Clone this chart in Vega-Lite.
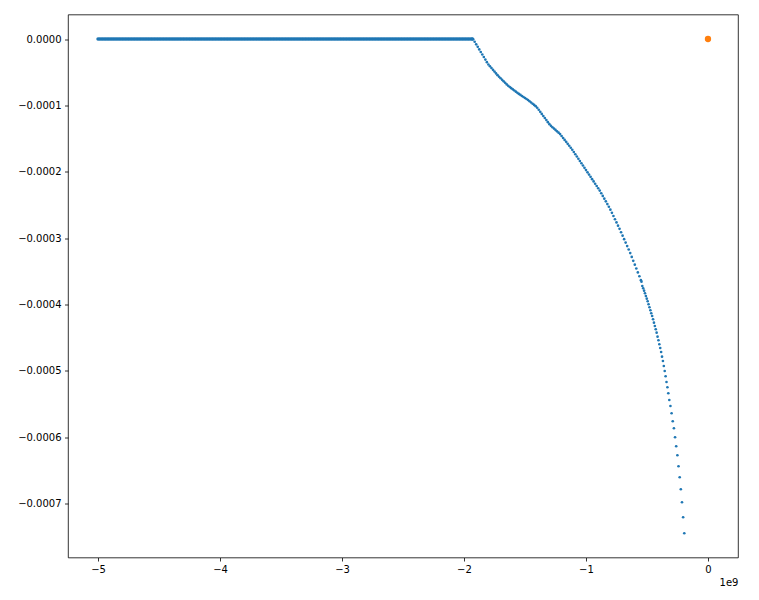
{
  "$schema": "https://vega.github.io/schema/vega-lite/v6.json",
  "autosize": "none",
  "padding": {"left": 68, "top": 14.5, "right": 21, "bottom": 42},
  "width": 670,
  "height": 543,
  "background": "white",
  "datasets": {
    "flat": [
      {"x":-5e9,"y":0},{"x":-4.9875e9,"y":0},{"x":-4.975e9,"y":0},{"x":-4.9625e9,"y":0},{"x":-4.95e9,"y":0},{"x":-4.9375e9,"y":0},{"x":-4.925e9,"y":0},{"x":-4.9125e9,"y":0},
      {"x":-4.9e9,"y":0},{"x":-4.8875e9,"y":0},{"x":-4.875e9,"y":0},{"x":-4.8625e9,"y":0},{"x":-4.85e9,"y":0},{"x":-4.8375e9,"y":0},{"x":-4.825e9,"y":0},{"x":-4.8125e9,"y":0},
      {"x":-4.8e9,"y":0},{"x":-4.7875e9,"y":0},{"x":-4.775e9,"y":0},{"x":-4.7625e9,"y":0},{"x":-4.75e9,"y":0},{"x":-4.7375e9,"y":0},{"x":-4.725e9,"y":0},{"x":-4.7125e9,"y":0},
      {"x":-4.7e9,"y":0},{"x":-4.6875e9,"y":0},{"x":-4.675e9,"y":0},{"x":-4.6625e9,"y":0},{"x":-4.65e9,"y":0},{"x":-4.6375e9,"y":0},{"x":-4.625e9,"y":0},{"x":-4.6125e9,"y":0},
      {"x":-4.6e9,"y":0},{"x":-4.5875e9,"y":0},{"x":-4.575e9,"y":0},{"x":-4.5625e9,"y":0},{"x":-4.55e9,"y":0},{"x":-4.5375e9,"y":0},{"x":-4.525e9,"y":0},{"x":-4.5125e9,"y":0},
      {"x":-4.5e9,"y":0},{"x":-4.4875e9,"y":0},{"x":-4.475e9,"y":0},{"x":-4.4625e9,"y":0},{"x":-4.45e9,"y":0},{"x":-4.4375e9,"y":0},{"x":-4.425e9,"y":0},{"x":-4.4125e9,"y":0},
      {"x":-4.4e9,"y":0},{"x":-4.3875e9,"y":0},{"x":-4.375e9,"y":0},{"x":-4.3625e9,"y":0},{"x":-4.35e9,"y":0},{"x":-4.3375e9,"y":0},{"x":-4.325e9,"y":0},{"x":-4.3125e9,"y":0},
      {"x":-4.3e9,"y":0},{"x":-4.2875e9,"y":0},{"x":-4.275e9,"y":0},{"x":-4.2625e9,"y":0},{"x":-4.25e9,"y":0},{"x":-4.2375e9,"y":0},{"x":-4.225e9,"y":0},{"x":-4.2125e9,"y":0},
      {"x":-4.2e9,"y":0},{"x":-4.1875e9,"y":0},{"x":-4.175e9,"y":0},{"x":-4.1625e9,"y":0},{"x":-4.15e9,"y":0},{"x":-4.1375e9,"y":0},{"x":-4.125e9,"y":0},{"x":-4.1125e9,"y":0},
      {"x":-4.1e9,"y":0},{"x":-4.0875e9,"y":0},{"x":-4.075e9,"y":0},{"x":-4.0625e9,"y":0},{"x":-4.05e9,"y":0},{"x":-4.0375e9,"y":0},{"x":-4.025e9,"y":0},{"x":-4.0125e9,"y":0},
      {"x":-4e9,"y":0},{"x":-3.9875e9,"y":0},{"x":-3.975e9,"y":0},{"x":-3.9625e9,"y":0},{"x":-3.95e9,"y":0},{"x":-3.9375e9,"y":0},{"x":-3.925e9,"y":0},{"x":-3.9125e9,"y":0},
      {"x":-3.9e9,"y":0},{"x":-3.8875e9,"y":0},{"x":-3.875e9,"y":0},{"x":-3.8625e9,"y":0},{"x":-3.85e9,"y":0},{"x":-3.8375e9,"y":0},{"x":-3.825e9,"y":0},{"x":-3.8125e9,"y":0},
      {"x":-3.8e9,"y":0},{"x":-3.7875e9,"y":0},{"x":-3.775e9,"y":0},{"x":-3.7625e9,"y":0},{"x":-3.75e9,"y":0},{"x":-3.7375e9,"y":0},{"x":-3.725e9,"y":0},{"x":-3.7125e9,"y":0},
      {"x":-3.7e9,"y":0},{"x":-3.6875e9,"y":0},{"x":-3.675e9,"y":0},{"x":-3.6625e9,"y":0},{"x":-3.65e9,"y":0},{"x":-3.6375e9,"y":0},{"x":-3.625e9,"y":0},{"x":-3.6125e9,"y":0},
      {"x":-3.6e9,"y":0},{"x":-3.5875e9,"y":0},{"x":-3.575e9,"y":0},{"x":-3.5625e9,"y":0},{"x":-3.55e9,"y":0},{"x":-3.5375e9,"y":0},{"x":-3.525e9,"y":0},{"x":-3.5125e9,"y":0},
      {"x":-3.5e9,"y":0},{"x":-3.4875e9,"y":0},{"x":-3.475e9,"y":0},{"x":-3.4625e9,"y":0},{"x":-3.45e9,"y":0},{"x":-3.4375e9,"y":0},{"x":-3.425e9,"y":0},{"x":-3.4125e9,"y":0},
      {"x":-3.4e9,"y":0},{"x":-3.3875e9,"y":0},{"x":-3.375e9,"y":0},{"x":-3.3625e9,"y":0},{"x":-3.35e9,"y":0},{"x":-3.3375e9,"y":0},{"x":-3.325e9,"y":0},{"x":-3.3125e9,"y":0},
      {"x":-3.3e9,"y":0},{"x":-3.2875e9,"y":0},{"x":-3.275e9,"y":0},{"x":-3.2625e9,"y":0},{"x":-3.25e9,"y":0},{"x":-3.2375e9,"y":0},{"x":-3.225e9,"y":0},{"x":-3.2125e9,"y":0},
      {"x":-3.2e9,"y":0},{"x":-3.1875e9,"y":0},{"x":-3.175e9,"y":0},{"x":-3.1625e9,"y":0},{"x":-3.15e9,"y":0},{"x":-3.1375e9,"y":0},{"x":-3.125e9,"y":0},{"x":-3.1125e9,"y":0},
      {"x":-3.1e9,"y":0},{"x":-3.0875e9,"y":0},{"x":-3.075e9,"y":0},{"x":-3.0625e9,"y":0},{"x":-3.05e9,"y":0},{"x":-3.0375e9,"y":0},{"x":-3.025e9,"y":0},{"x":-3.0125e9,"y":0},
      {"x":-3e9,"y":0},{"x":-2.9875e9,"y":0},{"x":-2.975e9,"y":0},{"x":-2.9625e9,"y":0},{"x":-2.95e9,"y":0},{"x":-2.9375e9,"y":0},{"x":-2.925e9,"y":0},{"x":-2.9125e9,"y":0},
      {"x":-2.9e9,"y":0},{"x":-2.8875e9,"y":0},{"x":-2.875e9,"y":0},{"x":-2.8625e9,"y":0},{"x":-2.85e9,"y":0},{"x":-2.8375e9,"y":0},{"x":-2.825e9,"y":0},{"x":-2.8125e9,"y":0},
      {"x":-2.8e9,"y":0},{"x":-2.7875e9,"y":0},{"x":-2.775e9,"y":0},{"x":-2.7625e9,"y":0},{"x":-2.75e9,"y":0},{"x":-2.7375e9,"y":0},{"x":-2.725e9,"y":0},{"x":-2.7125e9,"y":0},
      {"x":-2.7e9,"y":0},{"x":-2.6875e9,"y":0},{"x":-2.675e9,"y":0},{"x":-2.6625e9,"y":0},{"x":-2.65e9,"y":0},{"x":-2.6375e9,"y":0},{"x":-2.625e9,"y":0},{"x":-2.6125e9,"y":0},
      {"x":-2.6e9,"y":0},{"x":-2.5875e9,"y":0},{"x":-2.575e9,"y":0},{"x":-2.5625e9,"y":0},{"x":-2.55e9,"y":0},{"x":-2.5375e9,"y":0},{"x":-2.525e9,"y":0},{"x":-2.5125e9,"y":0},
      {"x":-2.5e9,"y":0},{"x":-2.4875e9,"y":0},{"x":-2.475e9,"y":0},{"x":-2.4625e9,"y":0},{"x":-2.45e9,"y":0},{"x":-2.4375e9,"y":0},{"x":-2.425e9,"y":0},{"x":-2.4125e9,"y":0},
      {"x":-2.4e9,"y":0},{"x":-2.3875e9,"y":0},{"x":-2.375e9,"y":0},{"x":-2.3625e9,"y":0},{"x":-2.35e9,"y":0},{"x":-2.3375e9,"y":0},{"x":-2.325e9,"y":0},{"x":-2.3125e9,"y":0},
      {"x":-2.3e9,"y":0},{"x":-2.2875e9,"y":0},{"x":-2.275e9,"y":0},{"x":-2.2625e9,"y":0},{"x":-2.25e9,"y":0},{"x":-2.2375e9,"y":0},{"x":-2.225e9,"y":0},{"x":-2.2125e9,"y":0},
      {"x":-2.2e9,"y":0},{"x":-2.1875e9,"y":0},{"x":-2.175e9,"y":0},{"x":-2.1625e9,"y":0},{"x":-2.15e9,"y":0},{"x":-2.1375e9,"y":0},{"x":-2.125e9,"y":0},{"x":-2.1125e9,"y":0},
      {"x":-2.1e9,"y":0},{"x":-2.0875e9,"y":0},{"x":-2.075e9,"y":0},{"x":-2.0625e9,"y":0},{"x":-2.05e9,"y":0},{"x":-2.0375e9,"y":0},{"x":-2.025e9,"y":0},{"x":-2.0125e9,"y":0},
      {"x":-2e9,"y":0},{"x":-1.9875e9,"y":0},{"x":-1.975e9,"y":0},{"x":-1.9625e9,"y":0},{"x":-1.95e9,"y":0},{"x":-1.9375e9,"y":0},{"x":-1.93e9,"y":0}
    ],
    "curve": [
      {"x":-1.925e9,"y":-0.0037e-4},{"x":-1.9125e9,"y":-0.042e-4},{"x":-1.9e9,"y":-0.0803e-4},{"x":-1.8875e9,"y":-0.1185e-4},
      {"x":-1.875e9,"y":-0.1568e-4},{"x":-1.8625e9,"y":-0.1951e-4},{"x":-1.85e9,"y":-0.2334e-4},{"x":-1.8375e9,"y":-0.2717e-4},
      {"x":-1.825e9,"y":-0.31e-4},{"x":-1.8125e9,"y":-0.3483e-4},{"x":-1.8e9,"y":-0.3836e-4},{"x":-1.7875e9,"y":-0.4105e-4},
      {"x":-1.775e9,"y":-0.4373e-4},{"x":-1.7625e9,"y":-0.4642e-4},{"x":-1.75e9,"y":-0.491e-4},{"x":-1.7375e9,"y":-0.5179e-4},
      {"x":-1.725e9,"y":-0.5448e-4},{"x":-1.7125e9,"y":-0.5689e-4},{"x":-1.7e9,"y":-0.5918e-4},{"x":-1.6875e9,"y":-0.6148e-4},
      {"x":-1.675e9,"y":-0.6378e-4},{"x":-1.6625e9,"y":-0.6607e-4},{"x":-1.65e9,"y":-0.6837e-4},{"x":-1.6375e9,"y":-0.7058e-4},
      {"x":-1.625e9,"y":-0.7233e-4},{"x":-1.6125e9,"y":-0.7408e-4},{"x":-1.6e9,"y":-0.7582e-4},{"x":-1.5875e9,"y":-0.7757e-4},
      {"x":-1.575e9,"y":-0.7932e-4},{"x":-1.5625e9,"y":-0.8107e-4},{"x":-1.55e9,"y":-0.8269e-4},{"x":-1.5375e9,"y":-0.8423e-4},
      {"x":-1.525e9,"y":-0.8577e-4},{"x":-1.5125e9,"y":-0.873e-4},{"x":-1.5e9,"y":-0.8884e-4},{"x":-1.4875e9,"y":-0.9038e-4},
      {"x":-1.475e9,"y":-0.9193e-4},{"x":-1.4625e9,"y":-0.9377e-4},{"x":-1.45e9,"y":-0.956e-4},{"x":-1.4375e9,"y":-0.9744e-4},
      {"x":-1.425e9,"y":-0.9927e-4},{"x":-1.4125e9,"y":-1.0111e-4},{"x":-1.4e9,"y":-1.0352e-4},{"x":-1.3875e9,"y":-1.0662e-4},
      {"x":-1.375e9,"y":-1.0972e-4},{"x":-1.3625e9,"y":-1.1282e-4},{"x":-1.35e9,"y":-1.1591e-4},{"x":-1.3375e9,"y":-1.1901e-4},
      {"x":-1.325e9,"y":-1.2211e-4},{"x":-1.3125e9,"y":-1.2521e-4},{"x":-1.3e9,"y":-1.283e-4},{"x":-1.2875e9,"y":-1.3078e-4},
      {"x":-1.275e9,"y":-1.3284e-4},{"x":-1.2625e9,"y":-1.3491e-4},{"x":-1.25e9,"y":-1.3697e-4},{"x":-1.2375e9,"y":-1.3904e-4},
      {"x":-1.225e9,"y":-1.411e-4},{"x":-1.2125e9,"y":-1.4321e-4},{"x":-1.2e9,"y":-1.4614e-4},{"x":-1.1875e9,"y":-1.4907e-4},
      {"x":-1.175e9,"y":-1.52e-4},{"x":-1.1625e9,"y":-1.5493e-4},{"x":-1.15e9,"y":-1.5786e-4},{"x":-1.1375e9,"y":-1.6079e-4},
      {"x":-1.125e9,"y":-1.6372e-4},{"x":-1.1125e9,"y":-1.6674e-4},{"x":-1.1e9,"y":-1.7014e-4},{"x":-1.0875e9,"y":-1.7355e-4},
      {"x":-1.075e9,"y":-1.7696e-4},{"x":-1.0625e9,"y":-1.8036e-4},{"x":-1.05e9,"y":-1.8377e-4},{"x":-1.0375e9,"y":-1.8717e-4},
      {"x":-1.025e9,"y":-1.9058e-4},{"x":-1.0125e9,"y":-1.9399e-4},{"x":-1e9,"y":-1.9739e-4},{"x":-0.9875e9,"y":-2.008e-4},
      {"x":-0.975e9,"y":-2.0421e-4},{"x":-0.9625e9,"y":-2.0762e-4},{"x":-0.95e9,"y":-2.1107e-4},{"x":-0.9375e9,"y":-2.1451e-4},
      {"x":-0.925e9,"y":-2.1796e-4},{"x":-0.9125e9,"y":-2.214e-4},{"x":-0.9e9,"y":-2.2484e-4},{"x":-0.8875e9,"y":-2.2829e-4},
      {"x":-0.875e9,"y":-2.3226e-4},{"x":-0.8625e9,"y":-2.3635e-4},{"x":-0.85e9,"y":-2.4044e-4},{"x":-0.8375e9,"y":-2.4453e-4},
      {"x":-0.825e9,"y":-2.4862e-4},{"x":-0.8125e9,"y":-2.5271e-4},{"x":-0.8e9,"y":-2.5699e-4},{"x":-0.7875e9,"y":-2.6181e-4},
      {"x":-0.775e9,"y":-2.6664e-4},{"x":-0.7625e9,"y":-2.7146e-4},{"x":-0.75e9,"y":-2.7628e-4},{"x":-0.7375e9,"y":-2.811e-4},
      {"x":-0.725e9,"y":-2.8592e-4},{"x":-0.7125e9,"y":-2.9102e-4},{"x":-0.7e9,"y":-2.9623e-4},{"x":-0.6875e9,"y":-3.0144e-4},
      {"x":-0.675e9,"y":-3.0666e-4},{"x":-0.6625e9,"y":-3.1187e-4},{"x":-0.65e9,"y":-3.1708e-4},{"x":-0.6375e9,"y":-3.2238e-4},
      {"x":-0.625e9,"y":-3.2822e-4},{"x":-0.6125e9,"y":-3.3405e-4},{"x":-0.6e9,"y":-3.3989e-4},{"x":-0.5875e9,"y":-3.4572e-4},
      {"x":-0.575e9,"y":-3.5156e-4},{"x":-0.5625e9,"y":-3.5739e-4},{"x":-0.55e9,"y":-3.6323e-4},{"x":-0.5451e9,"y":-3.6551e-4},
      {"x":-0.5385e9,"y":-3.7199e-4},{"x":-0.5311e9,"y":-3.7545e-4},{"x":-0.5238e9,"y":-3.7907e-4},{"x":-0.5165e9,"y":-3.8298e-4},
      {"x":-0.5091e9,"y":-3.8705e-4},{"x":-0.5017e9,"y":-3.9111e-4},{"x":-0.4944e9,"y":-3.9503e-4},{"x":-0.487e9,"y":-3.9955e-4},
      {"x":-0.4797e9,"y":-4.0407e-4},{"x":-0.4724e9,"y":-4.0858e-4},{"x":-0.465e9,"y":-4.131e-4},{"x":-0.4576e9,"y":-4.1717e-4},
      {"x":-0.4503e9,"y":-4.2214e-4},{"x":-0.443e9,"y":-4.2726e-4},{"x":-0.4356e9,"y":-4.3223e-4},{"x":-0.4282e9,"y":-4.372e-4},
      {"x":-0.4209e9,"y":-4.4232e-4},{"x":-0.4135e9,"y":-4.4834e-4},{"x":-0.4061e9,"y":-4.5377e-4},{"x":-0.3989e9,"y":-4.5979e-4},
      {"x":-0.3915e9,"y":-4.6536e-4},{"x":-0.3841e9,"y":-4.7139e-4},{"x":-0.3768e9,"y":-4.7846e-4},{"x":-0.3694e9,"y":-4.8494e-4},
      {"x":-0.362e9,"y":-4.9247e-4},{"x":-0.3547e9,"y":-5e-4},{"x":-0.3474e9,"y":-5.0798e-4},{"x":-0.34e9,"y":-5.1657e-4},
      {"x":-0.3326e9,"y":-5.2455e-4},{"x":-0.3253e9,"y":-5.3358e-4},{"x":-0.3172e9,"y":-5.4367e-4},{"x":-0.3078e9,"y":-5.5271e-4},
      {"x":-0.2983e9,"y":-5.637e-4},{"x":-0.2889e9,"y":-5.7575e-4},{"x":-0.2793e9,"y":-5.863e-4},{"x":-0.2699e9,"y":-5.9985e-4},
      {"x":-0.2605e9,"y":-6.134e-4},{"x":-0.251e9,"y":-6.2696e-4},{"x":-0.2416e9,"y":-6.4352e-4},{"x":-0.232e9,"y":-6.6009e-4},
      {"x":-0.2226e9,"y":-6.7816e-4},{"x":-0.2132e9,"y":-6.9774e-4},{"x":-0.2037e9,"y":-7.2033e-4},{"x":-0.1943e9,"y":-7.4443e-4}
    ],
    "origin": [{"x":0,"y":0}]
  },
  "encoding": {
    "x": {
      "field": "x", "type": "quantitative",
      "scale": {"domain": [-5.246e9, 0.246e9], "nice": false, "zero": false},
      "axis": {
        "values": [-5e9, -4e9, -3e9, -2e9, -1e9, 0],
        "labelExpr": "format(datum.value / 1e9, 'd')",
        "title": "1e9", "titleAnchor": "end", "titleAlign": "right",
        "titleX": 670, "titleY": 28, "titleBaseline": "alphabetic",
        "titleFontWeight": "normal", "titleFontSize": 10, "titleFont": "DejaVu Sans"
      }
    },
    "y": {
      "field": "y", "type": "quantitative",
      "scale": {"domain": [-0.0007809, 0.0000369], "nice": false, "zero": false},
      "axis": {
        "values": [0, -0.0001, -0.0002, -0.0003, -0.0004, -0.0005, -0.0006, -0.0007],
        "format": ".4f", "title": null
      }
    }
  },
  "layer": [
    {"data": {"name": "flat"}, "mark": {"type": "circle", "color": "#1f77b4", "opacity": 1, "size": 12}},
    {"data": {"name": "curve"}, "mark": {"type": "circle", "color": "#1f77b4", "opacity": 1, "size": 7}},
    {"data": {"name": "origin"}, "mark": {"type": "circle", "color": "#ff7f0e", "opacity": 1, "size": 40}}
  ],
  "config": {
    "view": {"stroke": "black", "strokeWidth": 0.8},
    "axis": {
      "domain": false, "grid": false,
      "tickColor": "black", "tickSize": 3.5, "tickWidth": 0.8,
      "labelFont": "DejaVu Sans", "labelFontSize": 10, "labelColor": "black", "labelPadding": 3.5
    }
  }
}
